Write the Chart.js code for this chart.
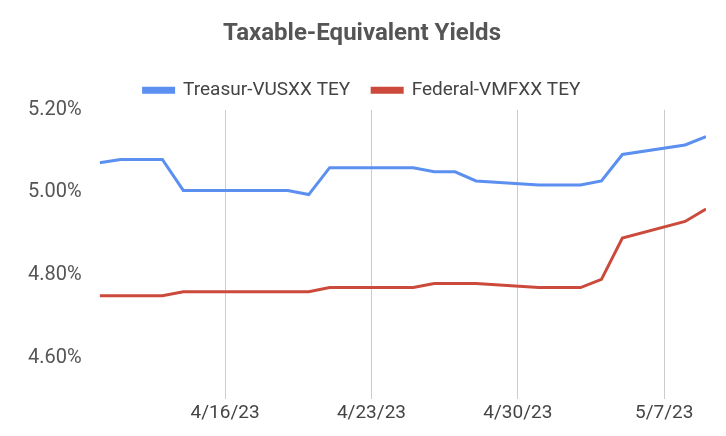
<!DOCTYPE html>
<html><head><meta charset="utf-8">
<script src="https://cdn.jsdelivr.net/npm/chart.js@4"></script>
<style>body{margin:0;background:#fff}#wrap{width:726px;height:436px}</style>
</head><body><div id="wrap"><canvas id="c"></canvas></div>
<script>
// days since 4/10/23
const days = [0,1,2,3,4,7,8,9,10,11,14,15,16,17,18,21,22,23,24,25,28,29];
const treasury = [5.072,5.08,5.08,5.08,5.005,5.005,5.005,5.005,4.995,5.06,5.06,5.06,5.05,5.05,5.028,5.018,5.018,5.018,5.028,5.092,5.115,5.135];
const federal = [4.75,4.75,4.75,4.75,4.76,4.76,4.76,4.76,4.76,4.77,4.77,4.77,4.78,4.78,4.78,4.77,4.77,4.77,4.79,4.89,4.93,4.96];
const tickDays = [6,13,20,27];
const tickLabels = ['4/16/23','4/23/23','4/30/23','5/7/23'];

const pts = v => days.map((d,i)=>({x:d,y:v[i]}));
new Chart(document.getElementById('c'),{
  type:'line',
  data:{datasets:[
    {label:'Treasur-VUSXX TEY',data:pts(treasury),borderColor:'#5b8ff0',backgroundColor:'#5b8ff0',borderWidth:3,pointRadius:0,tension:0},
    {label:'Federal-VMFXX TEY',data:pts(federal),borderColor:'#cc4a3c',backgroundColor:'#cc4a3c',borderWidth:3,pointRadius:0,tension:0}
  ]},
  options:{
    responsive:true,maintainAspectRatio:false,animation:false,
    layout:{padding:{left:18,right:20,bottom:8}},
    plugins:{
      title:{display:true,text:'Taxable-Equivalent Yields',color:'#555',font:{family:'Roboto',size:24,weight:'bold'},padding:{top:20,bottom:10}},
      legend:{labels:{color:'#444',font:{family:'Roboto',size:19},boxWidth:30,boxHeight:4,padding:22}}
    },
    scales:{
      x:{type:'linear',min:0,max:29,
        afterBuildTicks:a=>{a.ticks=tickDays.map(v=>({value:v}));},
        ticks:{callback:v=>tickLabels[tickDays.indexOf(v)],color:'#444',font:{family:'Roboto',size:19},maxRotation:0,autoSkip:false},
        grid:{color:'#ccc',drawTicks:false},border:{display:false}},
      y:{min:4.5,max:5.2,
        afterBuildTicks:a=>{a.ticks=[4.6,4.8,5.0,5.2].map(v=>({value:v}));},
        ticks:{callback:v=>v.toFixed(2)+'%',color:'#555',font:{family:'Roboto',size:20},padding:10},
        grid:{display:false},border:{display:false}}
    }
  }
});
</script></body></html>
